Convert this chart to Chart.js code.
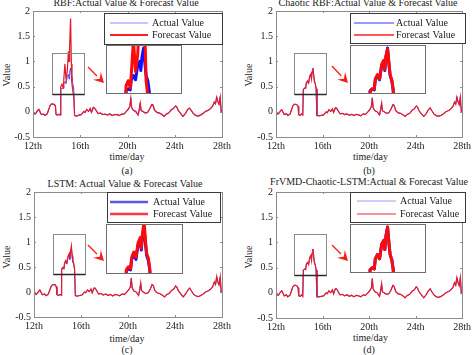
<!DOCTYPE html>
<html><head><meta charset="utf-8">
<script src="https://cdn.jsdelivr.net/npm/chart.js@4/dist/chart.umd.min.js"></script>
<style>
html,body{margin:0;padding:0;background:#fff;}
#wrap{position:relative;width:474px;height:355px;overflow:hidden;background:#fff;font-family:"Liberation Serif","Times New Roman",serif;color:#222;}
canvas{position:absolute;}
.t{position:absolute;font-size:10px;line-height:10px;white-space:nowrap;transform:translate(-50%,-50%);}
.yl{transform:translate(-50%,-50%) rotate(-90deg);}
</style></head><body><div id="wrap"></div>
<script>
// ---- data ----
const days = [
 12.0,12.2,12.4,12.5,12.7,12.9,13.0,13.2,13.35,13.45,
 13.6,13.8,13.9,13.95,14.1,14.2,14.3,14.35,14.45,14.55,
 14.6,14.7,14.8,14.9,15.0,15.05,15.1,15.18,15.25,15.3,
 15.38,15.45,15.52,15.7,15.9,16.1,16.3,16.4,16.55,16.7,
 16.85,16.95,17.1,17.2,17.35,17.5,17.7,17.9,18.1,18.3,
 18.5,18.7,18.9,19.1,19.3,19.5,19.7,19.9,20.05,20.2,
 20.28,20.35,20.5,20.7,20.9,21.0,21.08,21.15,21.3,21.5,
 21.7,21.9,22.05,22.15,22.3,22.5,22.7,22.9,23.1,23.3,
 23.5,23.7,23.9,24.05,24.15,24.3,24.5,24.7,24.9,25.1,
 25.25,25.4,25.6,25.8,26.0,26.2,26.4,26.6,26.8,27.0,
 27.2,27.35,27.45,27.55,27.65,27.75,27.85,27.93,28.0];
const actual = [
 -0.03,-0.05,0.02,0.04,-0.06,-0.04,-0.08,-0.05,0.05,0.12,
 0.15,0.14,0.10,-0.06,-0.07,-0.04,-0.07,0.45,0.47,0.46,
 0.56,0.60,0.56,0.70,0.74,0.65,0.78,0.87,0.70,0.60,
 0.55,0.45,-0.08,-0.08,-0.07,-0.06,0.00,-0.02,0.04,0.00,
 0.06,-0.02,0.08,0.08,0.02,-0.04,-0.03,-0.06,-0.04,-0.07,
 -0.05,-0.08,-0.05,-0.06,-0.08,-0.04,-0.05,0.00,0.04,0.10,
 0.28,0.08,0.02,0.00,-0.07,0.05,0.18,0.02,0.00,-0.03,
 -0.02,0.06,0.15,0.13,0.02,-0.02,-0.03,-0.06,-0.10,-0.05,
 -0.03,0.03,0.06,0.12,0.10,0.02,-0.04,-0.10,-0.04,0.04,
 0.08,0.02,-0.05,-0.08,-0.09,-0.07,-0.04,0.00,0.02,0.05,
 0.10,0.20,0.15,0.30,0.20,0.14,0.30,0.00,0.02];
const forecastRBF = [
 -0.02,-0.04,0.03,0.05,-0.05,-0.05,-0.07,-0.04,0.06,0.13,
 0.16,0.15,0.12,-0.05,-0.06,-0.05,-0.06,0.50,0.55,0.48,
 0.62,0.95,0.64,0.80,1.20,1.00,1.30,1.85,0.95,0.55,
 0.40,0.30,-0.07,-0.09,-0.06,-0.05,0.01,-0.01,0.05,0.01,
 0.07,-0.01,0.09,0.07,0.03,-0.03,-0.02,-0.05,-0.05,-0.06,
 -0.04,-0.07,-0.06,-0.05,-0.07,-0.05,-0.04,0.01,0.05,0.11,
 0.27,0.09,0.03,0.01,-0.06,0.06,0.17,0.03,0.01,-0.02,
 -0.01,0.07,0.14,0.14,0.03,-0.01,-0.02,-0.05,-0.09,-0.04,
 -0.02,0.04,0.07,0.11,0.11,0.03,-0.03,-0.09,-0.03,0.05,
 0.07,0.03,-0.04,-0.07,-0.08,-0.06,-0.03,0.01,0.03,0.06,
 0.11,0.19,0.16,0.29,0.21,0.15,0.29,0.01,0.03];
const forecastChaoticRBF = [
 -0.03,-0.04,0.02,0.04,-0.05,-0.04,-0.07,-0.05,0.05,0.12,
 0.15,0.14,0.11,-0.06,-0.07,-0.04,-0.06,0.44,0.47,0.47,
 0.57,0.61,0.57,0.71,0.75,0.66,0.79,0.86,0.71,0.61,
 0.56,0.46,-0.07,-0.08,-0.07,-0.06,0.00,-0.02,0.04,0.01,
 0.06,-0.01,0.08,0.07,0.02,-0.04,-0.03,-0.05,-0.04,-0.07,
 -0.05,-0.07,-0.05,-0.06,-0.08,-0.04,-0.05,0.00,0.04,0.11,
 0.27,0.08,0.02,0.00,-0.06,0.05,0.17,0.02,0.00,-0.03,
 -0.02,0.06,0.14,0.13,0.02,-0.02,-0.03,-0.06,-0.09,-0.05,
 -0.03,0.03,0.06,0.11,0.10,0.02,-0.04,-0.09,-0.04,0.04,
 0.08,0.02,-0.05,-0.08,-0.08,-0.07,-0.04,0.00,0.02,0.05,
 0.10,0.19,0.15,0.29,0.20,0.14,0.29,0.01,0.02];
const forecastLSTM = [
 -0.02,-0.05,0.01,0.04,-0.05,-0.04,-0.07,-0.05,0.04,0.11,
 0.15,0.15,0.11,-0.05,-0.07,-0.05,-0.06,0.46,0.49,0.47,
 0.58,0.63,0.58,0.72,0.77,0.67,0.80,0.92,0.73,0.62,
 0.57,0.47,-0.07,-0.08,-0.07,-0.06,0.00,-0.01,0.04,0.01,
 0.06,-0.02,0.08,0.08,0.02,-0.04,-0.03,-0.06,-0.04,-0.07,
 -0.05,-0.08,-0.05,-0.06,-0.07,-0.04,-0.05,0.00,0.04,0.10,
 0.28,0.09,0.02,0.00,-0.07,0.05,0.18,0.03,0.00,-0.03,
 -0.02,0.06,0.15,0.13,0.02,-0.02,-0.03,-0.06,-0.10,-0.05,
 -0.03,0.03,0.06,0.12,0.10,0.02,-0.04,-0.10,-0.04,0.04,
 0.08,0.02,-0.05,-0.08,-0.09,-0.07,-0.04,0.00,0.02,0.05,
 0.10,0.20,0.15,0.31,0.20,0.14,0.30,0.00,0.02];
const forecastFrVMD = [
 -0.03,-0.05,0.02,0.04,-0.06,-0.04,-0.08,-0.05,0.05,0.12,
 0.15,0.14,0.10,-0.06,-0.07,-0.04,-0.07,0.45,0.47,0.46,
 0.56,0.60,0.56,0.70,0.74,0.65,0.78,0.87,0.70,0.60,
 0.55,0.45,-0.08,-0.08,-0.07,-0.06,0.00,-0.02,0.04,0.00,
 0.06,-0.02,0.08,0.08,0.02,-0.04,-0.03,-0.06,-0.04,-0.07,
 -0.05,-0.08,-0.05,-0.06,-0.08,-0.04,-0.05,0.00,0.04,0.10,
 0.28,0.08,0.02,0.00,-0.07,0.05,0.18,0.02,0.00,-0.03,
 -0.02,0.06,0.15,0.13,0.02,-0.02,-0.03,-0.06,-0.10,-0.05,
 -0.03,0.03,0.06,0.12,0.10,0.02,-0.04,-0.10,-0.04,0.04,
 0.08,0.02,-0.05,-0.08,-0.09,-0.07,-0.04,0.00,0.02,0.05,
 0.10,0.20,0.15,0.30,0.20,0.14,0.30,0.00,0.02];
const xTicks = [12,16,20,24,28];
const xTickLabels = ['12th','16th','20th','24th','28th'];
const yTicks = [-0.5,0,0.5,1,1.5,2];
const yTickLabels = ['-0.5','0','0.5','1','1.5','2'];
const titles = ['RBF:Actual Value & Forecast Value','Chaotic RBF:Actual Value & Forecast Value',
  'LSTM: Actual Value & Forecast Value','FrVMD-Chaotic-LSTM:Actual & Forecast Value'];
const captions = ['(a)','(b)','(c)','(d)'];
const legendLabels = ['Actual Value','Forecast Value'];
const xAxisLabel = 'time/day';
const yAxisLabel = 'Value';
const zoomWindow = [13.58,16.3,0.36,1.16];   // region shown in the inset (data units)
const insetRange = [13.4,17.0,0.42,0.9];

// ---- layout ----
const FONT = '"Liberation Serif","Times New Roman",serif';
const panels = [
 {left:0,top:0,w:237,h:177,area:[33,11,222,137],fc:forecastRBF,
  title:[126,3],xl:[127,157],cap:[127,170.5],yl:[7,75],
  leg:{x:104,y:13,w:118,h:31,l0:6,l1:44,tx:48,r1:10,r2:22,ac:'#8c8cff',aw:1.2,fcol:'#ff2020',fw:2.2},
  inset:[106,45,76,49],arrow:[88,67,104,83]},
 {left:237,top:0,w:237,h:177,area:[276,11,465,137],fc:forecastChaoticRBF,
  title:[368,3],xl:[370.5,157],cap:[369,170.5],yl:[249,75],
  leg:{x:350,y:13,w:115,h:30,l0:4,l1:44,tx:46,r1:10,r2:22,ac:'#3535ff',aw:1.2,fcol:'#ff2020',fw:1.3},
  inset:[350,45,76,49],arrow:[332,66,348,83]},
 {left:0,top:177,w:237,h:178,area:[34,192,222,317],fc:forecastLSTM,
  title:[125,184],xl:[127,338.5],cap:[127,350],yl:[7,257],
  leg:{x:107,y:192,w:113,h:30,l0:3,l1:41,tx:46,r1:10,r2:22,ac:'#5a5ae0',aw:2.6,fcol:'#ff3848',fw:2.6},
  inset:[106,224,77,50],arrow:[88,245,104,261]},
 {left:237,top:177,w:237,h:178,area:[276,192,465,318],fc:forecastFrVMD,
  title:[369,182],xl:[370.5,338],cap:[369,349.5],yl:[249,257],
  leg:{x:350,y:192,w:115,h:30,l0:7,l1:46,tx:50,r1:9,r2:22,ac:'#9a9aff',aw:1,fcol:'#e8303c',fw:1.2},
  inset:[350,224,76,49],arrow:[332,245,348,261]}
];

const wrap = document.getElementById('wrap');
function addText(txt,pos,cls){
  const d=document.createElement('div'); d.className='t'+(cls?' '+cls:'');
  d.textContent=txt; d.style.left=pos[0]+'px'; d.style.top=pos[1]+'px'; wrap.appendChild(d);
}
function mkCanvas(x,y,w,h,z){
  const c=document.createElement('canvas'); c.width=w; c.height=h;
  c.style.left=x+'px'; c.style.top=y+'px'; c.style.width=w+'px'; c.style.height=h+'px';
  c.style.zIndex=z; wrap.appendChild(c); return c;
}
function series(arr){ return days.map((d,i)=>({x:d,y:arr[i]})); }

panels.forEach((p,k)=>{
  const L=p.left,T=p.top;
  const rel={l:p.area[0]-L,t:p.area[1]-T,r:p.area[2]-L,b:p.area[3]-T};
  const cv=mkCanvas(L,T,p.w,p.h,1);
  const decor={id:'decor'+k,
    afterDatasetsDraw(chart){
      const {ctx,scales:{x,y}}=chart;
      const bx0=Math.round(x.getPixelForValue(zoomWindow[0]))+0.5, bx1=Math.round(x.getPixelForValue(zoomWindow[1]))+0.5;
      const by0=Math.round(y.getPixelForValue(zoomWindow[3]))+0.5, by1=Math.round(y.getPixelForValue(zoomWindow[2]))+0.5;
      ctx.save();
      ctx.strokeStyle='#8a8a8a'; ctx.lineWidth=1;
      ctx.strokeRect(bx0,by0,bx1-bx0,by1-by0);
      ctx.strokeStyle='#2a2a2a'; ctx.lineWidth=1.5;
      ctx.beginPath(); ctx.moveTo(bx0,by1); ctx.lineTo(bx1,by1); ctx.stroke();
      ctx.restore();
    },
    afterDraw(chart){
      const {ctx,chartArea:a,scales:{x,y}}=chart;
      ctx.save();
      ctx.strokeStyle='#8c8c8c'; ctx.lineWidth=1;
      ctx.strokeRect(Math.round(a.left)+0.5,Math.round(a.top)+0.5,Math.round(a.right-a.left),Math.round(a.bottom-a.top));
      ctx.beginPath();
      xTicks.forEach(v=>{const px=Math.round(x.getPixelForValue(v))+0.5;
        ctx.moveTo(px,a.bottom); ctx.lineTo(px,a.bottom-2); ctx.moveTo(px,a.top); ctx.lineTo(px,a.top+2);});
      yTicks.forEach(v=>{const py=Math.round(y.getPixelForValue(v))+0.5;
        ctx.moveTo(a.left,py); ctx.lineTo(a.left+2,py); ctx.moveTo(a.right,py); ctx.lineTo(a.right-2,py);});
      ctx.stroke();
      const ar=p.arrow.map((v,i)=>v-(i%2?T:L));
      const ang=Math.atan2(ar[3]-ar[1],ar[2]-ar[0]);
      const hl=10,hw=5.5;
      const bxp=ar[2]-hl*Math.cos(ang), byp=ar[3]-hl*Math.sin(ang);
      ctx.strokeStyle='#ff1a1a'; ctx.fillStyle='#ff1a1a'; ctx.lineWidth=1.3;
      ctx.beginPath(); ctx.moveTo(ar[0],ar[1]); ctx.lineTo(bxp,byp); ctx.stroke();
      ctx.beginPath(); ctx.moveTo(ar[2],ar[3]);
      ctx.lineTo(bxp+hw*Math.sin(ang),byp-hw*Math.cos(ang));
      ctx.lineTo(ar[2]-hl*0.6*Math.cos(ang),ar[3]-hl*0.6*Math.sin(ang));
      ctx.lineTo(bxp-hw*Math.sin(ang),byp+hw*Math.cos(ang));
      ctx.closePath(); ctx.fill();
      const g=p.leg, gx=g.x-L, gy=g.y-T;
      ctx.fillStyle='#fff'; ctx.fillRect(gx,gy,g.w,g.h);
      ctx.strokeStyle='#3a3a3a'; ctx.lineWidth=1;
      ctx.strokeRect(Math.round(gx)+0.5,Math.round(gy)+0.5,Math.round(g.w),Math.round(g.h));
      const rows=[[g.ac,g.aw,g.r1],[g.fcol,g.fw,g.r2]];
      ctx.font='10px '+FONT; ctx.textBaseline='middle'; ctx.textAlign='left';
      rows.forEach((r,i)=>{
        ctx.strokeStyle=r[0]; ctx.lineWidth=r[1];
        ctx.beginPath(); ctx.moveTo(gx+g.l0,gy+r[2]); ctx.lineTo(gx+g.l1,gy+r[2]); ctx.stroke();
        ctx.fillStyle='#1a1a1a'; ctx.fillText(legendLabels[i],gx+g.tx,gy+r[2]+0.5);
      });
      ctx.restore();
    }
  };
  new Chart(cv,{
    type:'line',
    data:{datasets:[
      {label:legendLabels[0],data:series(actual),borderColor:'#3a3aff',borderWidth:0.9,pointRadius:0,order:2,tension:0},
      {label:legendLabels[1],data:series(p.fc),borderColor:'#e41c2c',borderWidth:1.25,pointRadius:0,order:1,tension:0}
    ]},
    options:{
      animation:false,responsive:false,events:[],
      layout:{padding:{left:0,top:rel.t,right:p.w-rel.r,bottom:0}},
      plugins:{legend:{display:false},tooltip:{enabled:false},title:{display:false}},
      scales:{
        x:{type:'linear',min:12,max:28,
          afterBuildTicks:s=>{s.ticks=xTicks.map(v=>({value:v}));},
          ticks:{callback:v=>xTickLabels[xTicks.indexOf(v)],font:{family:FONT,size:10},color:'#1a1a1a',padding:3,maxRotation:0,autoSkip:false},
          grid:{display:false,drawTicks:false},border:{display:false},
          afterFit:s=>{s.height=p.h-rel.b;}},
        y:{type:'linear',min:-0.5,max:2,
          afterBuildTicks:s=>{s.ticks=yTicks.map(v=>({value:v}));},
          ticks:{callback:v=>yTickLabels[yTicks.indexOf(v)],font:{family:FONT,size:10},color:'#1a1a1a',padding:3,autoSkip:false},
          grid:{display:false,drawTicks:false},border:{display:false},
          afterFit:s=>{s.width=rel.l;}}
      }
    },
    plugins:[decor]
  });
  const ins=p.inset;
  const ic=mkCanvas(ins[0],ins[1],ins[2],ins[3],2);
  new Chart(ic,{
    type:'line',
    data:{datasets:[
      {data:series(actual),borderColor:'#1010ff',borderWidth:3,pointRadius:0,order:2,borderJoinStyle:'round'},
      {data:series(p.fc),borderColor:'#ff0a0a',borderWidth:3,pointRadius:0,order:1,borderJoinStyle:'round'}
    ]},
    options:{animation:false,responsive:false,events:[],
      layout:{padding:0},
      plugins:{legend:{display:false},tooltip:{enabled:false}},
      scales:{x:{type:'linear',display:false,min:insetRange[0],max:insetRange[1]},
              y:{type:'linear',display:false,min:insetRange[2],max:insetRange[3]}}},
    plugins:[{id:'ib'+k,
      beforeDraw(c){c.ctx.save();c.ctx.fillStyle='#fff';c.ctx.fillRect(0,0,c.width,c.height);c.ctx.restore();},
      afterDraw(c){const x=c.ctx;x.save();x.strokeStyle='#6e6e6e';x.lineWidth=1;x.strokeRect(0.5,0.5,c.width-1,c.height-1);x.restore();}}]
  });
  addText(titles[k],p.title);
  addText(xAxisLabel,p.xl);
  addText(captions[k],p.cap);
  addText(yAxisLabel,p.yl,'yl');
});
</script></body></html>
